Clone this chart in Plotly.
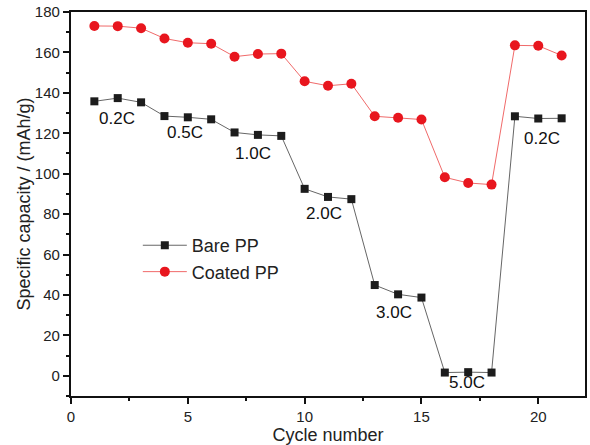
import plotly.graph_objects as go

cycles = list(range(1, 22))
bare_pp = [135.8, 137.4, 135.3, 128.5, 127.9, 126.9, 120.4, 119.2, 118.7,
           92.5, 88.5, 87.4, 44.9, 40.3, 38.7, 1.6, 1.8, 1.6, 128.4, 127.3, 127.4]
coated_pp = [173.1, 173.0, 172.0, 166.9, 164.8, 164.3, 157.9, 159.2, 159.4,
             145.7, 143.5, 144.5, 128.4, 127.7, 126.8, 98.2, 95.4, 94.6, 163.5, 163.3, 158.5]
rate_labels = ["0.2C", "0.5C", "1.0C", "2.0C", "3.0C", "5.0C", "0.2C"]
rate_label_x = [1.98, 4.88, 7.78, 10.81, 13.84, 16.96, 20.16]
rate_label_y = [127.4, 120.5, 110.2, 80.2, 31.5, -3.4, 117.5]

FONT = "Liberation Sans, Arial, sans-serif"

fig = go.Figure()
fig.add_trace(go.Scatter(
    x=cycles, y=bare_pp, name="Bare PP", mode="lines+markers",
    line=dict(color="#666666", width=1),
    marker=dict(symbol="square", size=8, color="#1c1c1c"),
))
fig.add_trace(go.Scatter(
    x=cycles, y=coated_pp, name="Coated PP", mode="lines+markers",
    line=dict(color="#f06a6a", width=1),
    marker=dict(symbol="circle", size=10, color="#e8161e"),
))

for t, x, y in zip(rate_labels, rate_label_x, rate_label_y):
    fig.add_annotation(x=x, y=y, text=t, showarrow=False,
                       font=dict(family=FONT, size=17, color="#111111"))

axis_common = dict(
    showline=True, linecolor="#111111", linewidth=2.2, mirror=True,
    ticks="outside", tickcolor="#111111", tickwidth=1.5, ticklen=6,
    showgrid=False, zeroline=False,
    tickfont=dict(family=FONT, size=15, color="#222222"),
)
fig.update_xaxes(range=[0, 22], tick0=0, dtick=5,
                 minor=dict(ticks="outside", dtick=2.5, ticklen=3, tickcolor="#111111", tickwidth=1.5),
                 title=dict(text="Cycle number", font=dict(family=FONT, size=18, color="#222222"), standoff=2),
                 **axis_common)
fig.update_yaxes(range=[-10, 180], tick0=0, dtick=20,
                 minor=dict(ticks="outside", dtick=10, ticklen=3, tickcolor="#111111", tickwidth=1.5),
                 title=dict(text="Specific capacity / (mAh/g)", font=dict(family=FONT, size=18, color="#222222"), standoff=0),
                 **axis_common)

fig.update_layout(
    width=590, height=445,
    margin=dict(l=71, r=3, t=10, b=49),
    plot_bgcolor="white", paper_bgcolor="white",
    font=dict(family=FONT),
    legend=dict(x=0.13, y=0.44, xanchor="left", yanchor="top",
                bgcolor="rgba(0,0,0,0)", itemwidth=44,
                font=dict(family=FONT, size=18, color="#222222"),
                tracegroupgap=0),
)

fig.write_html("out.html", config={"displayModeBar": False},
               post_script="document.body.style.margin='0px';")
